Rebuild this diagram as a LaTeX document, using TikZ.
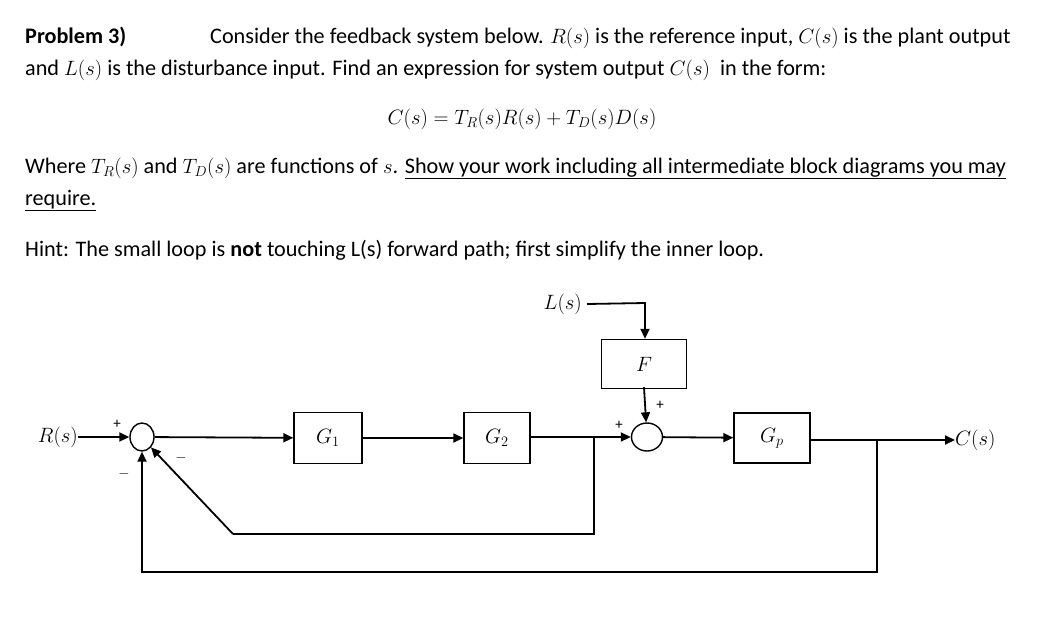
\documentclass[tikz,border=0pt]{standalone}
\usepackage{fontspec}
\setmainfont{Carlito}
\usetikzlibrary{arrows.meta,shapes.geometric}
\begin{document}
\begin{tikzpicture}[x=1pt,y=-1pt,
  txt/.style={anchor=base west,inner sep=0,font=\fontsize{22.2}{26}\selectfont},
  lab/.style={inner sep=0,font=\fontsize{20.5}{24}\selectfont},
  blk/.style={draw,line width=1.4pt,inner sep=0,font=\fontsize{21}{24}\selectfont},
  sum/.style={draw,line width=1.4pt,ellipse,minimum width=24pt,minimum height=28pt,inner sep=0},
  sig/.style={line width=1.8pt},
  arr/.style={sig,-{Triangle[length=10pt,width=9pt]}},
  pm/.style={inner sep=0,font=\fontsize{15}{17}\selectfont}]
\useasboundingbox (0,0) rectangle (1045,619);
\node[txt] (p3) at (25,43) {\textbf{Problem 3)}};
\node[txt] (l1) at (210,43) {Consider the feedback system below. $R(s)$ is the reference input, $C(s)$ is the plant output};
\node[txt] (l2) at (25,75) {and $L(s)$ is the disturbance input. Find an expression for system output $C(s)$~ in the form:};
\node[txt,anchor=base] (eq) at (522,124) {$C(s)=T_R(s)R(s)+T_D(s)D(s)$};
\node[txt] (l3) at (25,173) {Where $T_R(s)$ and $T_D(s)$ are functions of $s$. \underline{Show your work including all intermediate block diagrams you may}};
\node[txt] (l4) at (25,205) {\underline{require.}};
\node[txt] (l5) at (25,256) {Hint: The small loop is \textbf{not} touching L(s) forward path; first simplify the inner loop.};

\node[sum] (s1) at (142,437) {};
\node[blk,minimum width=68pt,minimum height=51pt] (g1) at (328,438) {$G_1$};
\node[blk,minimum width=66pt,minimum height=51pt] (g2) at (497,438) {$G_2$};
\node[sum,minimum width=31pt] (s2) at (647,437) {};
\node[blk,minimum width=85pt,minimum height=49pt] (f) at (644,364) {$F$};
\node[blk,minimum width=76pt,minimum height=50pt] (gp) at (772,438) {$G_p$};
\node[lab,anchor=east] (r) at (78,437) {$R(s)$};
\node[lab,anchor=west] (c) at (955,440) {$C(s)$};
\node[lab,anchor=east] (l) at (582,304) {$L(s)$};
\coordinate (lc) at (645,303);
\coordinate (b1) at (594,437);
\coordinate (b1d) at (594,534);
\coordinate (b1l) at (233,534);
\coordinate (b2) at (877,440);
\coordinate (b2d) at (877,572);
\coordinate (b2l) at (142,572);

\draw[arr] (r) -- (s1);
\draw[arr] (s1) -- (g1);
\draw[arr] (g1) -- (g2);
\draw[arr] (g2.east |- s2) -- (s2);
\draw[arr] ([xshift=5pt]l.east) -- (lc) -- (f.north -| lc);
\draw[arr] ([yshift=2pt]f.south) -- (s2);
\draw[arr] (s2) -- (gp);
\draw[arr] (gp.east |- b2) -- (c);
\draw[sig] (b1) -- (b1d) -- (b1l);
\draw[arr] (b1l) -- (s1.south east);
\draw[arr] (b2) -- (b2d) -- (b2l) -- (s1);

\node[pm] (p1) at (117,424) {+};
\node[pm] (m1) at (124,474) {$-$};
\node[pm] (m2) at (181,458) {$-$};
\node[pm] (p2) at (619,425) {+};
\node[pm] (p3b) at (660,405) {+};
\end{tikzpicture}
\end{document}
